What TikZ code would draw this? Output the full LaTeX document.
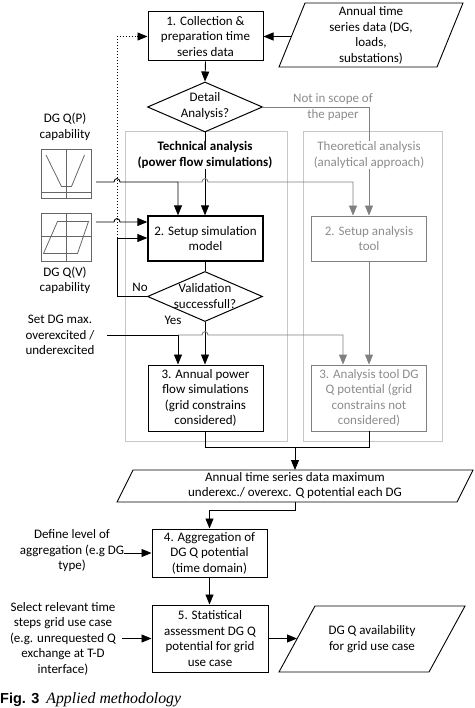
\documentclass[tikz,border=0pt]{standalone}
\usepackage{fontspec}
\setmainfont{Carlito}
\newfontfamily\capsans{Liberation Sans}
\newfontfamily\capserif{Liberation Serif}
\usetikzlibrary{arrows.meta,shapes.geometric,calc}
\definecolor{gtext}{gray}{0.55}
\definecolor{gln}{gray}{0.5}
\definecolor{grpc}{gray}{0.78}
\definecolor{iconc}{gray}{0.4}
\begin{document}
\begin{tikzpicture}[x=1pt,y=-1pt,
  every node/.style={font=\fontsize{13}{15.5}\selectfont, align=center, inner sep=0pt},
  ln/.style={line width=0.9pt, black},
  arr/.style={ln, -{Triangle[length=10pt,width=8pt]}},
  gline/.style={line width=0.9pt, gln},
  garr/.style={gline, -{Triangle[length=10pt,width=8pt]}},
  box/.style={draw, line width=1pt, minimum width=115pt},
  gbox/.style={draw=gln, line width=0.9pt, minimum width=115pt, text=gtext},
  dia/.style={draw, line width=1pt, shape=diamond, minimum width=115pt, minimum height=50pt, inner sep=0pt},
  grp/.style={draw=grpc, line width=1pt},
  gtxt/.style={text=gtext},
  boldtxt/.style={font=\fontsize{13}{15.5}\selectfont\bfseries},
  icon/.style={draw=iconc, line width=0.9pt, minimum width=50pt, minimum height=49pt},
  iconln/.style={iconc, line width=0.8pt},
  dotln/.style={line width=1pt, dotted},
]
\useasboundingbox (0,0) rectangle (474,708);

% group frames
\node[grp, minimum width=162pt, minimum height=309pt] (gtech) at (206,286.5) {};
\node[grp, minimum width=139pt, minimum height=309pt] (gtheo) at (372.5,286.5) {};

% main boxes
\node[box, minimum height=49pt] (b1) at (205.5,36.5) {1. Collection \&\\preparation time\\series data};
\node[dia] (d1) at (205,107) {};
\node (d1t) at (205,106) {Detail\\Analysis?};
\node[boldtxt] (tt) at (205,155) {Technical analysis\\(power flow simulations)};
\node[gtxt] (th) at (369,155) {Theoretical analysis\\(analytical approach)};
\node[gtxt] (nis) at (333,107) {Not in scope of\\the paper};
\node[box, line width=1.3pt, minimum height=45pt] (b2) at (205.5,238.5) {2. Setup simulation\\model};
\node[gbox, minimum height=45pt] (s2) at (369,238.5) {2. Setup analysis\\tool};
\node[dia] (d2) at (205,296.5) {};
\node (d2t) at (205,296) {Validation\\successfull?};
\node (no) at (140,287) {No};
\node (yes) at (173,320) {Yes};
\node[box, minimum height=66pt] (b3) at (205.5,398) {3. Annual power\\flow simulations\\(grid constrains\\considered)};
\node[gbox, minimum height=66pt] (s3) at (369,398) {3. Analysis tool DG\\Q potential (grid\\constrains not\\considered)};
\node[box, minimum height=48pt] (b4) at (209.5,553) {4. Aggregation of\\DG Q potential\\(time domain)};
\node[box, minimum height=67pt, minimum width=116pt] (b5) at (210,638.5) {5. Statistical\\assessment DG Q\\potential for grid\\use case};

% parallelograms
\draw[ln] (305,3) -- (463,3) -- (437,67) -- (279,67) -- cycle;
\node (p1) at (371,35.5) {Annual time\\series data (DG,\\loads,\\substations)};
\draw[ln] (133,470) -- (473,470) -- (457,502) -- (117,502) -- cycle;
\node (p2) at (295,485.5) {Annual time series data maximum\\underexc./ overexc. Q potential each DG};
\draw[ln] (315,606) -- (465,606) -- (429,672) -- (279,672) -- cycle;
\node (p3) at (372,639) {DG Q availability\\for grid use case};
\coordinate (p1in) at (291,36.5);
\coordinate (p2top) at (295,470);
\coordinate (p2bot) at (295,502);
\coordinate (p3in) at (297,638.5);

% side texts
\node (qpl) at (65,127) {DG Q(P)\\capability};
\node (qvl) at (65,280.5) {DG Q(V)\\capability};
\node (set) at (60,335) {Set DG max.\\overexcited /\\underexcited};
\node (dl) at (72,551) {Define level of\\aggregation (e.g DG\\type)};
\node (sel) at (63,638.5) {Select relevant time\\steps grid use case\\(e.g. unrequested Q\\exchange at T-D\\interface)};

% icons
\node[icon] (qp) at (66,173.5) {};
\draw[iconln] (qp.north) -- (qp.south);
\draw[iconln] (41,192.5) -- (91,192.5);
\draw[iconln] (46,155) -- (61.5,186.5) -- (71.5,186.5) -- (84.5,155);
\node[icon, minimum height=48pt] (qv) at (66,237) {};
\draw[iconln] (qv.north) -- (qv.south);
\draw[iconln] (41,236.5) -- (91,236.5);
\draw[iconln] (43.5,253.5) -- (57.5,221.5) -- (88.5,221.5) -- (77.5,253.5) -- cycle;

% coordinates
\coordinate (qpout) at (96,182);
\coordinate (qvout) at (96,222);
\coordinate (jA) at (117,182);
\coordinate (jB) at (117,222);
\coordinate (jC) at (205,182);
\coordinate (jD) at (205,335);
\coordinate (qps) at (178,182);
\coordinate (qpg) at (353,182);
\coordinate (noc) at (117,238);
\coordinate (setout) at (107,335);
\coordinate (sets) at (178,335);
\coordinate (setg) at (343,335);
\coordinate (m) at (295,447);
\coordinate (dlout) at (124,553);
\coordinate (selout) at (122,638.5);

% connectors
\draw[arr] (p1in) -- (b1.east);
\draw[arr] (b1.south) -- (d1.north);
\draw[ln] (d1.south) -- (tt.north);
\draw[gline] (d1.east) -| (th.north);
\draw[arr] (tt.south) -- (tt.south |- b2.north);
\draw[garr] (th.south) -- (s2.north);
\draw[ln] (b2.south) -- (b2.south |- d2.north);
\draw[arr] (d2.south) -- (d2.south |- b3.north);
\draw[garr] (s2.south) -- (s3.north);

% Q(P)
\draw[arr] (qpout) -- ($(jA)+(-3,0)$) .. controls ($(jA)+(-3,-4.5)$) and ($(jA)+(3,-4.5)$) .. ($(jA)+(3,0)$) -- (qps) -- (qps |- b2.north);
\draw[garr] (qps) -- ($(jC)+(-3,0)$) .. controls ($(jC)+(-3,-4.5)$) and ($(jC)+(3,-4.5)$) .. ($(jC)+(3,0)$) -- (qpg) -- (qpg |- s2.north);
% Q(V)
\draw[arr] (qvout) -- ($(jB)+(-3,0)$) .. controls ($(jB)+(-3,-4.5)$) and ($(jB)+(3,-4.5)$) .. ($(jB)+(3,0)$) -- (b2.west |- qvout);
% No loop
\draw[arr] (d2.west) -| (noc) -- (b2.west |- noc);
% dotted feedback
\draw[dotln] (noc) |- ($(b1.west)+(-10,0)$);
\draw[arr] ($(b1.west)+(-10.5,0)$) -- (b1.west);
% set DG max
\draw[arr] (setout) -- (sets) -- (sets |- b3.north);
\draw[garr] (sets) -- ($(jD)+(-3,0)$) .. controls ($(jD)+(-3,-4.5)$) and ($(jD)+(3,-4.5)$) .. ($(jD)+(3,0)$) -- (setg) -- (setg |- s3.north);

% merge
\draw[ln] (b3.south) |- (m);
\draw[ln] (s3.south) |- (m);
\draw[arr] (m) -- (p2top);
\draw[arr] (p2bot) -- ++(0,8) -| (b4.north);
\draw[arr] (dlout) -- (b4.west);
\draw[arr] (b4.south) -- (b4.south |- b5.north);
\draw[arr] (selout) -- (b5.west);
\draw[arr] (b5.east) -- (p3in);

% caption
\node[anchor=base west, align=left, font=\fontsize{14.5}{17}\selectfont] (cap) at (0,703) {{\capsans\bfseries Fig. 3}\hspace{7pt}{\capserif\itshape\fontsize{15.8}{18}\selectfont Applied methodology}};
\end{tikzpicture}
\end{document}
